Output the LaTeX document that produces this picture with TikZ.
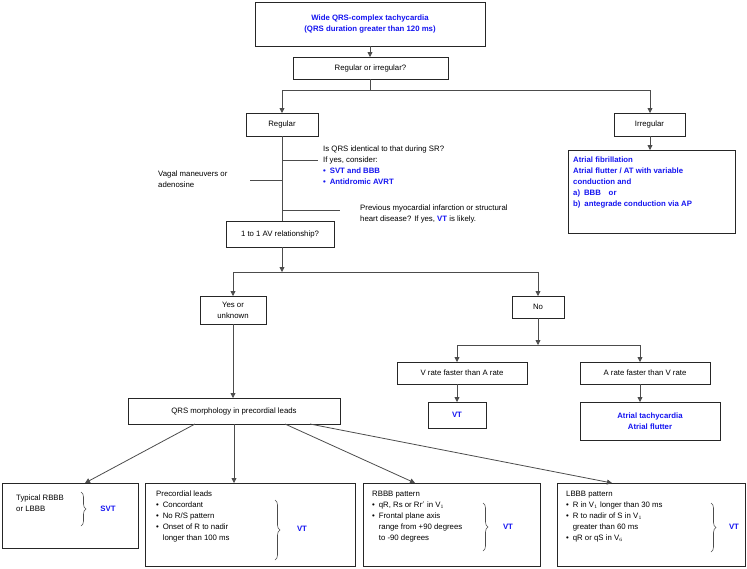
\documentclass[tikz,border=0pt]{standalone}
\usepackage{fontspec}
\setmainfont{Liberation Sans}
\usetikzlibrary{arrows.meta,decorations.pathreplacing}
\definecolor{bl}{RGB}{20,20,240}
\begin{document}
\begin{tikzpicture}[x=1pt,y=-1pt,
  every node/.style={font=\fontsize{7.8}{11}\selectfont,inner sep=0pt},
  bx/.style={draw=black!85,line width=0.7pt},
  ln/.style={draw=black!70,line width=0.8pt},
  ar/.style={ln,-{Triangle[length=5pt,width=5pt]}},
  brc/.style={draw=black!70,line width=0.6pt,decorate,decoration={brace,amplitude=5pt}},
  bt/.style={text=bl,font=\fontsize{7.8}{11}\selectfont\bfseries}]
\useasboundingbox (0,0) rectangle (747,568);
% boxes
\draw[bx] (255,2) rectangle (485,46);
\node[bt,align=center] (top) at (370,24) {Wide QRS-complex tachycardia\\(QRS duration greater than 120 ms)};
\draw[bx] (293,57) rectangle (448,79); \node (reg?) at (370.5,68) {Regular or irregular?};
\draw[bx] (246,113) rectangle (318,136); \node (reg) at (282,124.5) {Regular};
\draw[bx] (614,113) rectangle (685,136); \node (irr) at (649.5,124.5) {Irregular};
\draw[bx] (568,150) rectangle (735,233);
\node[bt,align=left,anchor=north west] (af) at (573,157) {Atrial fibrillation\\Atrial flutter / AT with variable\\conduction and\\a)\enspace BBB\quad or\\b)\enspace antegrade conduction via AP};
\draw[bx] (226,221) rectangle (334,247); \node (av) at (280,234) {1 to 1 AV relationship?};
\draw[bx] (200,296) rectangle (266,324); \node[align=center] (yes) at (233,310) {Yes or\\unknown};
\draw[bx] (512,296) rectangle (564,318); \node (no) at (538,307) {No};
\draw[bx] (397,362) rectangle (527,384); \node (vr) at (462,373) {V rate faster than A rate};
\draw[bx] (580,362) rectangle (710,384); \node (arr) at (645,373) {A rate faster than V rate};
\draw[bx] (428,402) rectangle (486,428); \node[bt] (vt1) at (457,415) {VT};
\draw[bx] (580,402) rectangle (720,440); \node[bt,align=center] (at) at (650,421) {Atrial tachycardia\\Atrial flutter};
\draw[bx] (128,398) rectangle (340,424); \node (qrs) at (234,411) {QRS morphology in precordial leads};
\draw[bx] (2,483) rectangle (138,548);
\draw[bx] (145,483) rectangle (355,566);
\draw[bx] (363,483) rectangle (540,566);
\draw[bx] (557,483) rectangle (745,566);
% connectors
\draw[ar] (370,46) -- (370,57);
\draw[ln] (370,79) -- (370,90);
\draw[ln] (282,90) -- (650,90);
\draw[ar] (282,90) -- (282,113);
\draw[ar] (650,90) -- (650,113);
\draw[ar] (650,136) -- (650,150);
\draw[ln] (282,136) -- (282,221);
\draw[ln] (282,160) -- (318,160);
\draw[ln] (250,180) -- (282,180);
\draw[ln] (282,210) -- (340,210);
\node[align=left,anchor=north west] (q1) at (323,146) {Is QRS identical to that during SR?\\If yes, consider:\\\textcolor{bl}{\textbf{•\enspace SVT and BBB}}\\\textcolor{bl}{\textbf{•\enspace Antidromic AVRT}}};
\node[align=left,anchor=north west] (vag) at (158,171) {Vagal maneuvers or\\adenosine};
\node[align=left,anchor=north west] (mi) at (360,205) {Previous myocardial infarction or structural\\heart disease? If yes, \textcolor{bl}{\textbf{VT}} is likely.};
\draw[ar] (282,247) -- (282,272);
\draw[ln] (233,272) -- (538,272);
\draw[ar] (233,272) -- (233,296);
\draw[ar] (538,272) -- (538,296);
\draw[ar] (233,324) -- (233,398);
\draw[ar] (538,318) -- (538,345);
\draw[ln] (457,345) -- (640,345);
\draw[ar] (457,345) -- (457,362);
\draw[ar] (640,345) -- (640,362);
\draw[ar] (457,384) -- (457,402);
\draw[ar] (640,384) -- (640,402);
\draw[ar] (195,424) -- (85,483);
\draw[ar] (234,424) -- (234,483);
\draw[ar] (285,424) -- (415,483);
\draw[ar] (310,424) -- (612,483);
% bottom box texts
\node[align=left,anchor=north west] (b1) at (16,495) {Typical RBBB\\or LBBB};
\draw[brc] (81,492) -- (81,526); \node[bt] (svt) at (108,509) {SVT};
\node[align=left,anchor=north west] (b2) at (156,491) {Precordial leads\\•\enspace Concordant\\•\enspace No R/S pattern\\•\enspace Onset of R to nadir\\\phantom{•\enspace}longer than 100 ms};
\draw[brc] (275,500) -- (275,560); \node[bt] (vt2) at (302,529) {VT};
\node[align=left,anchor=north west] (b3) at (372,491) {RBBB pattern\\•\enspace qR, Rs or Rr$'$ in V$_1$\\•\enspace Frontal plane axis\\\phantom{•\enspace}range from +90 degrees\\\phantom{•\enspace}to -90 degrees};
\draw[brc] (483,503) -- (483,551); \node[bt] (vt3) at (508,527) {VT};
\node[align=left,anchor=north west] (b4) at (566,491) {LBBB pattern\\•\enspace R in V$_1$ longer than 30 ms\\•\enspace R to nadir of S in V$_1$\\\phantom{•\enspace}greater than 60 ms\\•\enspace qR or qS in V$_6$};
\draw[brc] (711,503) -- (711,552); \node[bt] (vt4) at (734,527) {VT};
\end{tikzpicture}
\end{document}
